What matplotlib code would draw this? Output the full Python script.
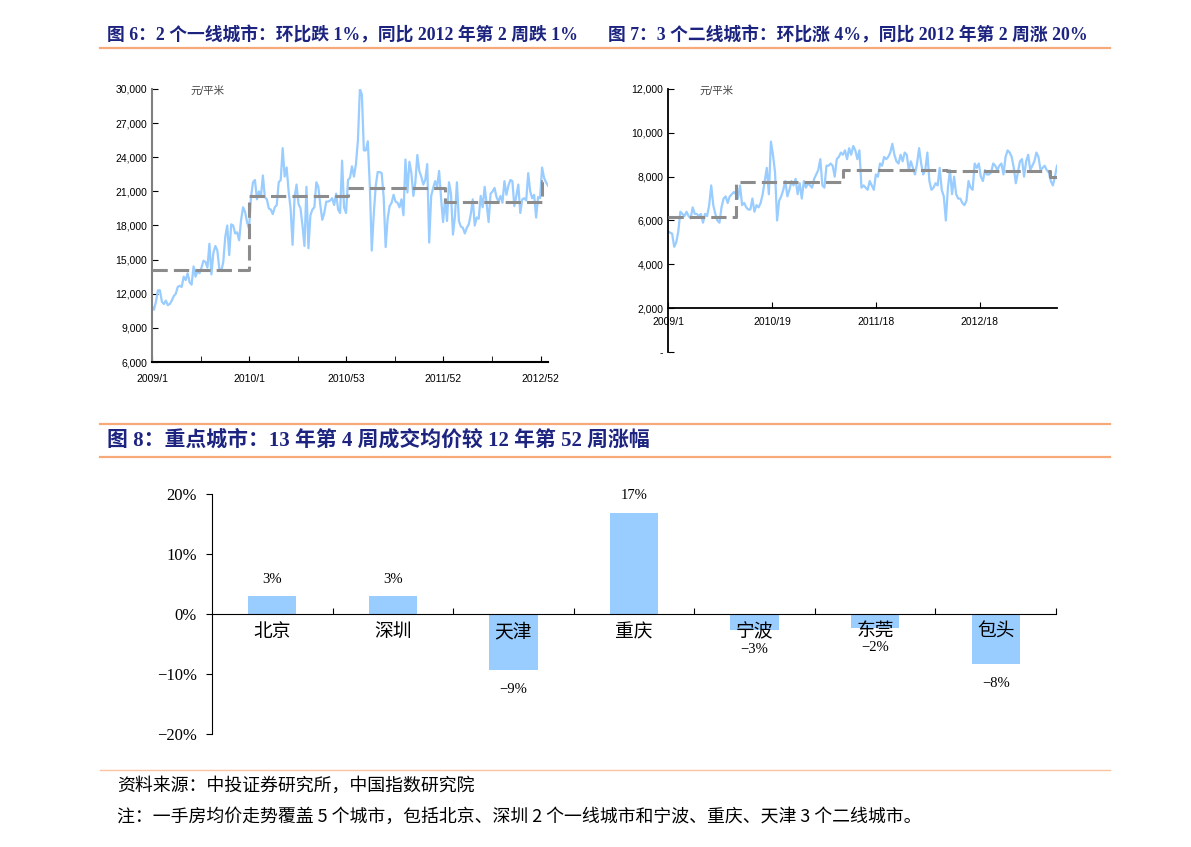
import numpy as np
import matplotlib.pyplot as plt
from matplotlib.lines import Line2D
from matplotlib.ticker import FuncFormatter

plt.rcParams['font.family'] = ['Liberation Sans', 'Noto Sans CJK SC']

# ---- data ----
# 图6: 2个一线城市 周成交均价 (元/平米), 2009/1 .. 2013/4
tier1_price = [10900, 10600, 11300, 12300, 12300, 11300, 11100, 11400, 11000, 11100,
               11400, 11800, 12000, 12600, 12700, 12600, 13500, 13200, 13800, 13000,
               12800, 14400, 13500, 14000, 13800, 14300, 14900, 14800, 14300, 16400,
               13700, 15600, 16200, 15800, 14200, 14000, 14800, 17000, 18000, 15400,
               18100, 18000, 17300, 17400, 16700, 18500, 19600, 19200, 18300, 17700,
               20500, 21800, 22000, 20300, 21000, 20500, 22400, 20500, 20300, 19500,
               19400, 19000, 19600, 19800, 21800, 22000, 24800, 22300, 23100, 21000,
               19500, 16300, 20500, 21600, 19900, 19500, 18000, 16200, 21400, 16000,
               18900, 19400, 19600, 21800, 21400, 19800, 18500, 19100, 20100, 20100,
               20200, 20400, 19800, 20800, 19400, 19100, 23700, 19600, 19100, 22000,
               22200, 23200, 22300, 23400, 25500, 30000, 29500, 24600, 24600, 25400,
               21500, 15800, 19000, 21500, 22700, 22700, 22600, 20500, 16100, 18600,
               19700, 20000, 20700, 20100, 20000, 19600, 20300, 18900, 23800, 20900,
               23600, 22600, 20600, 21800, 24200, 22800, 22300, 21600, 22000, 23400,
               16500, 20600, 21300, 21900, 21400, 22800, 20400, 18300, 20300, 18400,
               21800, 20800, 17200, 18800, 21800, 18400, 17900, 17800, 17300, 17800,
               18100, 19000, 20300, 18000, 18700, 18600, 20600, 19600, 21400, 19900,
               18300, 20800, 21000, 21300, 20500, 20100, 20600, 20000, 21900, 20700,
               21500, 22000, 21900, 19700, 20600, 21600, 19100, 20300, 20400, 20200,
               22600, 21000, 20400, 20700, 18700, 20500, 20400, 23100, 22200, 21800,
               21500]
tier1_span = 212
tier1_avg_start = [0, 52, 105, 157, 209, 212]
tier1_avg = [14100, 20600, 21300, 20100, 21900]
tier1_ticks = [0, 52, 104, 156, 208]
tier1_ticklabels = ['2009/1', '2010/1', '2010/53', '2011/52', '2012/52']

# 图7: 3个二线城市 周成交均价 (元/平米)
tier2_price = [5500, 5450, 5400, 4800, 5000, 5500, 6400, 6300, 6200, 6400,
               6200, 6100, 6600, 6300, 6300, 6200, 6300, 5900, 6300, 6200,
               6700, 7600, 6700, 6300, 6000, 5900, 6600, 7000, 7100, 6800,
               7100, 7200, 7300, 7200, 7000, 7600, 6700, 6800, 6600, 6500,
               6500, 7000, 6400, 6700, 6600, 6800, 7200, 7800, 8400, 7200,
               9600, 9000, 8200, 6000, 6900, 7100, 7400, 7800, 7100, 7400,
               7800, 7600, 7900, 7200, 7700, 7000, 7800, 7500, 7700, 7600,
               7500, 7900, 8100, 8300, 8800, 7600, 7500, 8500, 8500, 8600,
               8500, 8000, 8800, 8900, 9100, 9000, 9200, 8800, 9300, 9000,
               9400, 9200, 8800, 9200, 7500, 7600, 7500, 7400, 7800, 7600,
               7400, 8100, 8000, 8600, 8500, 8900, 8800, 8900, 9100, 9500,
               9000, 8700, 8600, 9000, 8700, 9100, 9000, 8300, 8700, 8400,
               8100, 8600, 9300, 8600, 8100, 8300, 9100, 7800, 7400, 7500,
               7700, 7600, 8400, 7400, 7100, 6000, 7500, 8300, 7200, 8000,
               7200, 7000, 7000, 6800, 6700, 6900, 7800, 7500, 7400, 8600,
               8400, 8600, 8000, 7800, 8300, 8100, 8100, 8200, 8600, 8500,
               8300, 8500, 8600, 8100, 8900, 9200, 9100, 8900, 8400, 7700,
               8200, 8700, 8800, 8000, 8700, 9000, 8300, 8500, 8700, 9100,
               8900, 8300, 8400, 8500, 8300, 8200, 7800, 7600, 8000, 8500]
tier2_span = 262
tier2_avg_start = [0, 46, 118, 188, 257, 262]
tier2_avg = [6150, 7750, 8300, 8250, 8000]
tier2_ticks = [0, 70, 140, 210]
tier2_ticklabels = ['2009/1', '2010/19', '2011/18', '2012/18']

# 图8: 重点城市涨幅 (%)
cities = ['北京', '深圳', '天津', '重庆', '宁波', '东莞', '包头']
change = [3.0, 3.0, -9.4, 16.9, -2.7, -2.4, -8.3]

# ---- figure ----
W, H = 1191, 847
fig = plt.figure(figsize=(W / 100, H / 100), dpi=100)

navy = '#1c2480'
orange = '#f7a977'
blue = '#99ccff'
grey = '#8c8c8c'
title_font = ['Liberation Serif', 'Noto Sans CJK SC']


def box(l, t, r, b):
    return fig.add_axes([l / W, 1 - b / H, (r - l) / W, (b - t) / H])


def hline(y, x0=100, x1=1110, lw=1.6, color=orange):
    fig.add_artist(Line2D([x0 / W, x1 / W], [1 - y / H, 1 - y / H],
                          transform=fig.transFigure, color=color, lw=lw))


comma = FuncFormatter(lambda v, p: '{:,.0f}'.format(v))

# titles
fig.text(107 / W, 1 - 35 / H, '图 6：2 个一线城市：环比跌 1%，同比 2012 年第 2 周跌 1%',
         color=navy, fontsize=12.8, fontweight='bold', family=title_font, va='center')
fig.text(608 / W, 1 - 35 / H, '图 7：3 个二线城市：环比涨 4%，同比 2012 年第 2 周涨 20%',
         color=navy, fontsize=12.8, fontweight='bold', family=title_font, va='center')
hline(48.5)

# chart 1
ax1 = box(152, 89, 548, 362)
x1 = np.linspace(0, tier1_span, len(tier1_price))
ax1.plot(x1, tier1_price, color=blue, lw=1.6, zorder=2)
ax1.step(tier1_avg_start, tier1_avg + [tier1_avg[-1]], where='post',
         color=grey, lw=2.2, dashes=(5, 2), zorder=3)
ax1.set_xlim(0, tier1_span)
ax1.set_ylim(6000, 30000)
ax1.set_yticks(range(6000, 30001, 3000))
ax1.yaxis.set_major_formatter(comma)
ax1.set_xticks(tier1_ticks)
ax1.set_xticklabels(tier1_ticklabels)
ax1.set_xticks([26, 78, 130, 182], minor=True)
ax1.tick_params(axis='both', which='both', direction='in', length=4, labelsize=7.5)
ax1.tick_params(axis='x', pad=9)
for s in ['top', 'right']:
    ax1.spines[s].set_visible(False)
ax1.spines['left'].set_color('#808080')
ax1.spines['left'].set_linewidth(1.5)
ax1.spines['bottom'].set_linewidth(1.5)
ax1.text(0.096, 0.995, '元/平米', transform=ax1.transAxes, fontsize=7.5,
         color='#444444', va='center')

# chart 2
ax2 = box(668, 89, 1057, 352)
x2 = np.linspace(0, tier2_span, len(tier2_price))
ax2.plot(x2, tier2_price, color=blue, lw=1.6, zorder=2)
ax2.step(tier2_avg_start, tier2_avg + [tier2_avg[-1]], where='post',
         color=grey, lw=2.2, dashes=(5, 2), zorder=3)
ax2.set_xlim(0, tier2_span)
ax2.set_ylim(0, 12000)
ax2.set_yticks(range(0, 12001, 2000))
ax2.yaxis.set_major_formatter(FuncFormatter(lambda v, p: '-' if v == 0 else '{:,.0f}'.format(v)))
ax2.set_xticks(tier2_ticks)
ax2.set_xticklabels(tier2_ticklabels)
ax2.tick_params(axis='both', direction='in', length=4, labelsize=7.5)
ax2.tick_params(axis='x', pad=6)
for s in ['top', 'right']:
    ax2.spines[s].set_visible(False)
ax2.spines['bottom'].set_position(('data', 2000))
ax2.spines['left'].set_linewidth(1.3)
ax2.spines['bottom'].set_linewidth(1.3)
ax2.text(0.08, 0.995, '元/平米', transform=ax2.transAxes, fontsize=7.5,
         color='#444444', va='center')

# chart 3 title
hline(424)
fig.text(107 / W, 1 - 440 / H, '图 8：重点城市：13 年第 4 周成交均价较 12 年第 52 周涨幅',
         color=navy, fontsize=15, fontweight='bold', family=title_font, va='center')
hline(457)

# chart 3
ax3 = box(212, 494, 1056, 734)
ax3.set_axisbelow(False)
pos = np.arange(len(cities))
ax3.bar(pos, change, width=0.4, color=blue, zorder=1)
ax3.set_xlim(-0.5, len(cities) - 0.5)
ax3.set_ylim(-20, 20)
ax3.set_yticks([-20, -10, 0, 10, 20])
ax3.yaxis.set_major_formatter(FuncFormatter(
    lambda v, p: ('−' if v < 0 else '') + '{:.0f}%'.format(abs(v))))
ax3.set_xticks(pos + 0.5)
ax3.set_xticklabels([])
ax3.set_xticks(pos, minor=True)
ax3.set_xticklabels(cities, minor=True)
ax3.tick_params(axis='x', which='major', direction='in', length=4)
ax3.tick_params(axis='x', which='minor', length=0, pad=7, labelsize=13.5)
ax3.tick_params(axis='y', direction='out', length=4, pad=7, labelsize=12)
for lab in ax3.get_xticklabels(minor=True):
    lab.set_family(['Noto Sans CJK SC'])
for lab in ax3.get_yticklabels():
    lab.set_family(['Liberation Serif'])
for s in ['top', 'right']:
    ax3.spines[s].set_visible(False)
ax3.spines['bottom'].set_position(('data', 0))
for xi, v in zip(pos, change):
    off = 12 if v >= 0 else -14
    ax3.annotate(('−' if v < 0 else '') + '{:.0f}%'.format(abs(v)), (xi, v),
                 xytext=(0, off), textcoords='offset points', ha='center',
                 va='center', fontsize=10.5, family=['Liberation Serif'])

# footer
hline(770, lw=1.0, color='#fbc4a0')
fig.text(117 / W, 1 - 786 / H, '资料来源：中投证券研究所，中国指数研究院',
         fontsize=12.9, va='center', family=['Noto Sans CJK SC'])
fig.text(117 / W, 1 - 817 / H,
         '注：一手房均价走势覆盖 5 个城市，包括北京、深圳 2 个一线城市和宁波、重庆、天津 3 个二线城市。',
         fontsize=12.9, va='center', family=['Noto Sans CJK SC', 'DejaVu Sans'])

fig.savefig('out.png', dpi=100)
